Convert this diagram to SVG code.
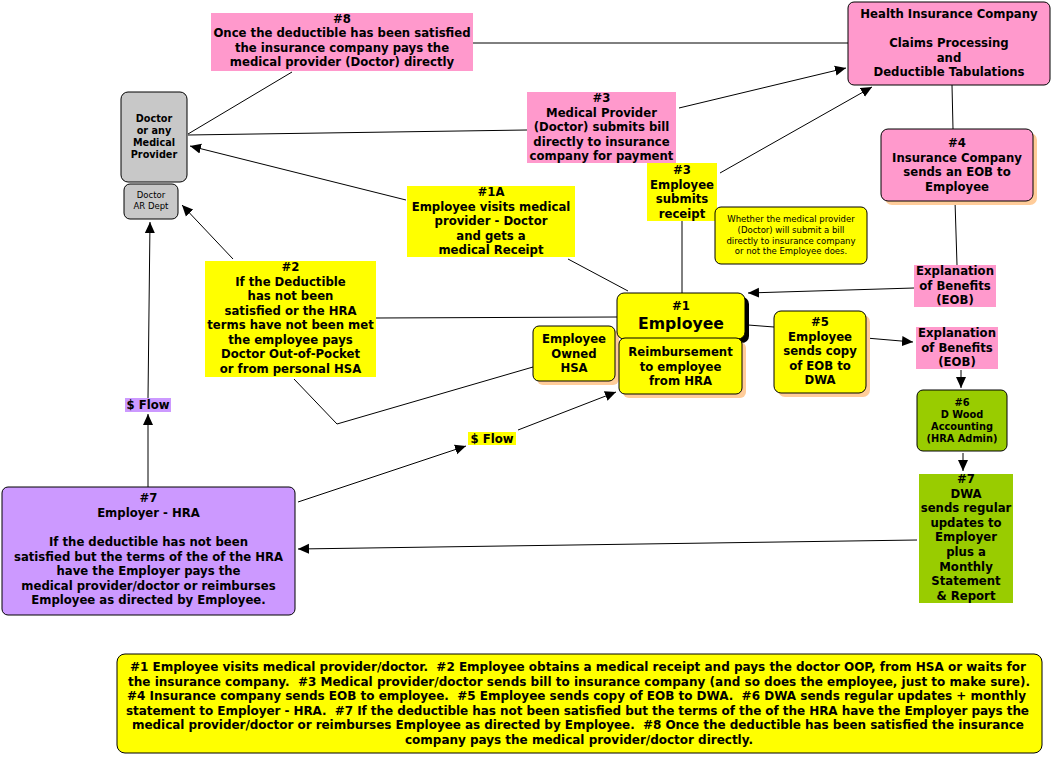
<svg xmlns="http://www.w3.org/2000/svg" width="1053" height="760" viewBox="0 0 1053 760">
<style>
.t{font-family:"DejaVu Sans",Verdana,sans-serif;font-weight:bold;font-size:11.7px;text-anchor:middle;fill:#000}
.s{font-family:"DejaVu Sans",Verdana,sans-serif;font-size:8.5px;text-anchor:middle;fill:#000}
.L{font-family:"DejaVu Sans",Verdana,sans-serif;font-weight:bold;font-size:12px;text-anchor:start;fill:#000}
.pk{fill:#ff99cc}
.yl{fill:#ffff00}
.bd{stroke:#000;stroke-width:1}
.sh{fill:#ffcc99}
.c{stroke:#000;stroke-width:1;fill:none}
.a{marker-end:url(#ah)}
</style>
<defs>
<marker id="ah" markerUnits="userSpaceOnUse" markerWidth="12" markerHeight="12" viewBox="0 0 12 12" refX="11" refY="6" orient="auto">
<path d="M0,1 L11,6 L0,11 Z" fill="#000"/>
</marker>
</defs>
<rect width="1053" height="760" fill="#fff"/>

<g id="connectors">
<line class="c" x1="473" y1="43" x2="848" y2="43"/>
<line class="c" x1="188" y1="134" x2="292" y2="72"/>
<line class="c" x1="188" y1="135" x2="527" y2="130"/>
<line class="c a" x1="679" y1="108" x2="846" y2="68"/>
<line class="c a" x1="720" y1="173" x2="872" y2="87"/>
<line class="c a" x1="406" y1="200" x2="190" y2="146"/>
<line class="c" x1="568" y1="259" x2="628" y2="291"/>
<line class="c a" x1="233" y1="259" x2="182" y2="205"/>
<line class="c" x1="376" y1="318" x2="617" y2="317"/>
<polyline class="c" points="294,379 337,424 533,367"/>
<line class="c" x1="682" y1="221" x2="682" y2="293"/>
<line class="c" x1="952" y1="85" x2="953" y2="129"/>
<line class="c" x1="955" y1="201" x2="957" y2="265"/>
<line class="c a" x1="914" y1="288" x2="748" y2="293"/>
<line class="c" x1="748" y1="325" x2="774" y2="327"/>
<line class="c a" x1="866" y1="338" x2="913" y2="342"/>
<line class="c a" x1="961" y1="370" x2="961" y2="388"/>
<line class="c a" x1="963" y1="453" x2="963" y2="471"/>
<line class="c a" x1="917" y1="540" x2="298" y2="549"/>
<line class="c a" x1="148" y1="487" x2="148" y2="414"/>
<line class="c a" x1="148" y1="398" x2="150" y2="222"/>
<line class="c a" x1="298" y1="502" x2="466" y2="446"/>
<line class="c a" x1="518" y1="430" x2="616" y2="392"/>
</g>

<g id="n8">
<rect class="pk" x="211" y="13" width="262" height="58"/>
<text class="t" x="342" y="23">#8</text>
<text class="t" x="342" y="37.4">Once the deductible has been satisfied</text>
<text class="t" x="342" y="51.8">the insurance company pays the</text>
<text class="t" x="342" y="66.2">medical provider (Doctor) directly</text>
</g>

<g id="doctor">
<rect x="121" y="92" width="66" height="90" rx="7" fill="#c8c8c8" class="bd"/>
<text class="t" style="font-size:9.7px" x="154" y="121.5">Doctor</text>
<text class="t" style="font-size:9.7px" x="154" y="133.7">or any</text>
<text class="t" style="font-size:9.7px" x="154" y="145.9">Medical</text>
<text class="t" style="font-size:9.7px" x="154" y="158.1">Provider</text>
</g>

<g id="ardept">
<rect x="124" y="184" width="54" height="35" rx="6" fill="#c8c8c8" class="bd"/>
<text class="s" x="151" y="198">Doctor</text>
<text class="s" x="151" y="209">AR Dept</text>
</g>

<g id="health">
<rect x="848" y="2" width="202" height="83" rx="6" class="pk bd"/>
<text class="t" x="949" y="18">Health Insurance Company</text>
<text class="t" x="949" y="47.4">Claims Processing</text>
<text class="t" x="949" y="61.8">and</text>
<text class="t" x="949" y="76.2">Deductible Tabulations</text>
</g>

<g id="n3med">
<rect class="pk" x="527" y="92" width="149" height="71"/>
<text class="t" x="601.5" y="102">#3</text>
<text class="t" x="601.5" y="116.5">Medical Provider</text>
<text class="t" x="601.5" y="131">(Doctor) submits bill</text>
<text class="t" x="601.5" y="145.5">directly to insurance</text>
<text class="t" x="601.5" y="160">company for payment</text>
</g>

<g id="n3emp">
<rect class="yl" x="647" y="163" width="70" height="58"/>
<text class="t" x="682" y="174">#3</text>
<text class="t" x="682" y="188.5">Employee</text>
<text class="t" x="682" y="203">submits</text>
<text class="t" x="682" y="217.5">receipt</text>
</g>

<g id="note">
<rect x="715" y="207" width="152" height="57" rx="6" class="yl bd"/>
<text class="s" x="791" y="222">Whether the medical provider</text>
<text class="s" x="791" y="232.8">(Doctor) will submit a bill</text>
<text class="s" x="791" y="243.6">directly to insurance company</text>
<text class="s" x="791" y="254.4">or not the Employee does.</text>
</g>

<g id="n4">
<rect class="sh" x="885" y="133" width="152" height="72" rx="7"/>
<rect x="881" y="129" width="152" height="72" rx="7" class="pk bd"/>
<text class="t" x="957" y="147">#4</text>
<text class="t" x="957" y="161.5">Insurance Company</text>
<text class="t" x="957" y="176">sends an EOB to</text>
<text class="t" x="957" y="190.5">Employee</text>
</g>

<g id="n1a">
<rect class="yl" x="407" y="186" width="168" height="71"/>
<text class="t" x="491" y="196">#1A</text>
<text class="t" x="491" y="210.5">Employee visits medical</text>
<text class="t" x="491" y="225">provider - Doctor</text>
<text class="t" x="491" y="239.5">and gets a</text>
<text class="t" x="491" y="254">medical Receipt</text>
</g>

<g id="n2">
<rect class="yl" x="205" y="261" width="171" height="116"/>
<text class="t" x="290.5" y="271">#2</text>
<text class="t" x="290.5" y="285.5">If the Deductible</text>
<text class="t" x="290.5" y="300">has not been</text>
<text class="t" x="290.5" y="314.5">satisfied or the HRA</text>
<text class="t" x="290.5" y="329">terms have not been met</text>
<text class="t" x="290.5" y="343.5">the employee pays</text>
<text class="t" x="290.5" y="358">Doctor Out-of-Pocket</text>
<text class="t" x="290.5" y="372.5">or from personal HSA</text>
</g>

<g id="hsa">
<rect class="sh" x="537" y="330" width="82" height="55" rx="6"/>
<rect x="533" y="326" width="82" height="55" rx="6" class="yl bd"/>
<text class="t" x="574" y="343">Employee</text>
<text class="t" x="574" y="357.5">Owned</text>
<text class="t" x="574" y="372">HSA</text>
</g>

<g id="n1">
<rect x="621" y="297" width="128" height="46" rx="7" fill="#000"/>
<rect x="617" y="293" width="128" height="46" rx="7" class="yl bd"/>
<text class="t" x="681" y="310">#1</text>
<text class="t" style="font-size:15.7px" x="681" y="328.5">Employee</text>
</g>

<g id="reimb">
<rect class="sh" x="623" y="342" width="123" height="56" rx="6"/>
<rect x="619" y="338" width="123" height="56" rx="6" class="yl bd"/>
<text class="t" x="680.5" y="356">Reimbursement</text>
<text class="t" x="680.5" y="370.5">to employee</text>
<text class="t" x="680.5" y="385">from HRA</text>
</g>

<g id="eob1">
<rect class="pk" x="914" y="265" width="82" height="42"/>
<text class="t" x="955" y="275">Explanation</text>
<text class="t" x="955" y="289.5">of Benefits</text>
<text class="t" x="955" y="304">(EOB)</text>
</g>

<g id="n5">
<rect class="sh" x="778" y="315" width="92" height="82" rx="7"/>
<rect x="774" y="311" width="92" height="82" rx="7" class="yl bd"/>
<text class="t" x="820" y="326">#5</text>
<text class="t" x="820" y="340.5">Employee</text>
<text class="t" x="820" y="355">sends copy</text>
<text class="t" x="820" y="369.5">of EOB to</text>
<text class="t" x="820" y="384">DWA</text>
</g>

<g id="eob2">
<rect class="pk" x="916" y="327" width="82" height="42"/>
<text class="t" x="957" y="337">Explanation</text>
<text class="t" x="957" y="351.5">of Benefits</text>
<text class="t" x="957" y="366">(EOB)</text>
</g>

<g id="n6">
<rect x="917" y="390" width="90" height="61" rx="6" fill="#99cc00" class="bd"/>
<text class="t" style="font-size:9.8px" x="962" y="405.5">#6</text>
<text class="t" style="font-size:9.8px" x="962" y="417.5">D Wood</text>
<text class="t" style="font-size:9.8px" x="962" y="429.5">Accounting</text>
<text class="t" style="font-size:9.8px" x="962" y="441.5">(HRA Admin)</text>
</g>

<g id="n7dwa">
<rect x="919" y="474" width="94" height="129" fill="#99cc00"/>
<text class="t" x="966" y="483">#7</text>
<text class="t" x="966" y="497.6">DWA</text>
<text class="t" x="966" y="512.2">sends regular</text>
<text class="t" x="966" y="526.8">updates to</text>
<text class="t" x="966" y="541.4">Employer</text>
<text class="t" x="966" y="556">plus a</text>
<text class="t" x="966" y="570.6">Monthly</text>
<text class="t" x="966" y="585.2">Statement</text>
<text class="t" x="966" y="599.8">&amp; Report</text>
</g>

<g id="employer">
<rect x="2" y="487" width="293" height="128" rx="6" fill="#cc99ff" class="bd"/>
<text class="t" x="148.5" y="502">#7</text>
<text class="t" x="148.5" y="516.5">Employer - HRA</text>
<text class="t" x="148.5" y="546">If the deductible has not been</text>
<text class="t" x="148.5" y="560.5">satisfied but the terms of the of the HRA</text>
<text class="t" x="148.5" y="575">have the Employer pays the</text>
<text class="t" x="148.5" y="589.5">medical provider/doctor or reimburses</text>
<text class="t" x="148.5" y="604">Employee as directed by Employee.</text>
</g>

<g id="flow1">
<rect x="125" y="398" width="46" height="14" fill="#cc99ff"/>
<text class="t" x="148" y="409">$ Flow</text>
</g>

<g id="flow2">
<rect class="yl" x="468" y="432" width="48" height="13"/>
<text class="t" x="492" y="442.5">$ Flow</text>
</g>

<g id="summary">
<rect x="117" y="654" width="925" height="99" rx="8" class="yl bd"/>
<text class="L" xml:space="preserve" x="130" y="671" textLength="896" lengthAdjust="spacing">#1 Employee visits medical provider/doctor.  #2 Employee obtains a medical receipt and pays the doctor OOP, from HSA or waits for</text>
<text class="L" xml:space="preserve" x="128" y="685.5" textLength="902" lengthAdjust="spacing">the insurance company.  #3 Medical provider/doctor sends bill to insurance company (and so does the employee, just to make sure).</text>
<text class="L" xml:space="preserve" x="127" y="700" textLength="899" lengthAdjust="spacing">#4 Insurance company sends EOB to employee.  #5 Employee sends copy of EOB to DWA.  #6 DWA sends regular updates + monthly</text>
<text class="L" xml:space="preserve" x="126" y="714.5" textLength="903" lengthAdjust="spacing">statement to Employer - HRA.  #7 If the deductible has not been satisfied but the terms of the of the HRA have the Employer pays the</text>
<text class="L" xml:space="preserve" x="132" y="729" textLength="892" lengthAdjust="spacing">medical provider/doctor or reimburses Employee as directed by Employee.  #8 Once the deductible has been satisfied the insurance</text>
<text class="L" xml:space="preserve" x="405" y="743.5" textLength="348" lengthAdjust="spacing">company pays the medical provider/doctor directly.</text>
</g>
</svg>
